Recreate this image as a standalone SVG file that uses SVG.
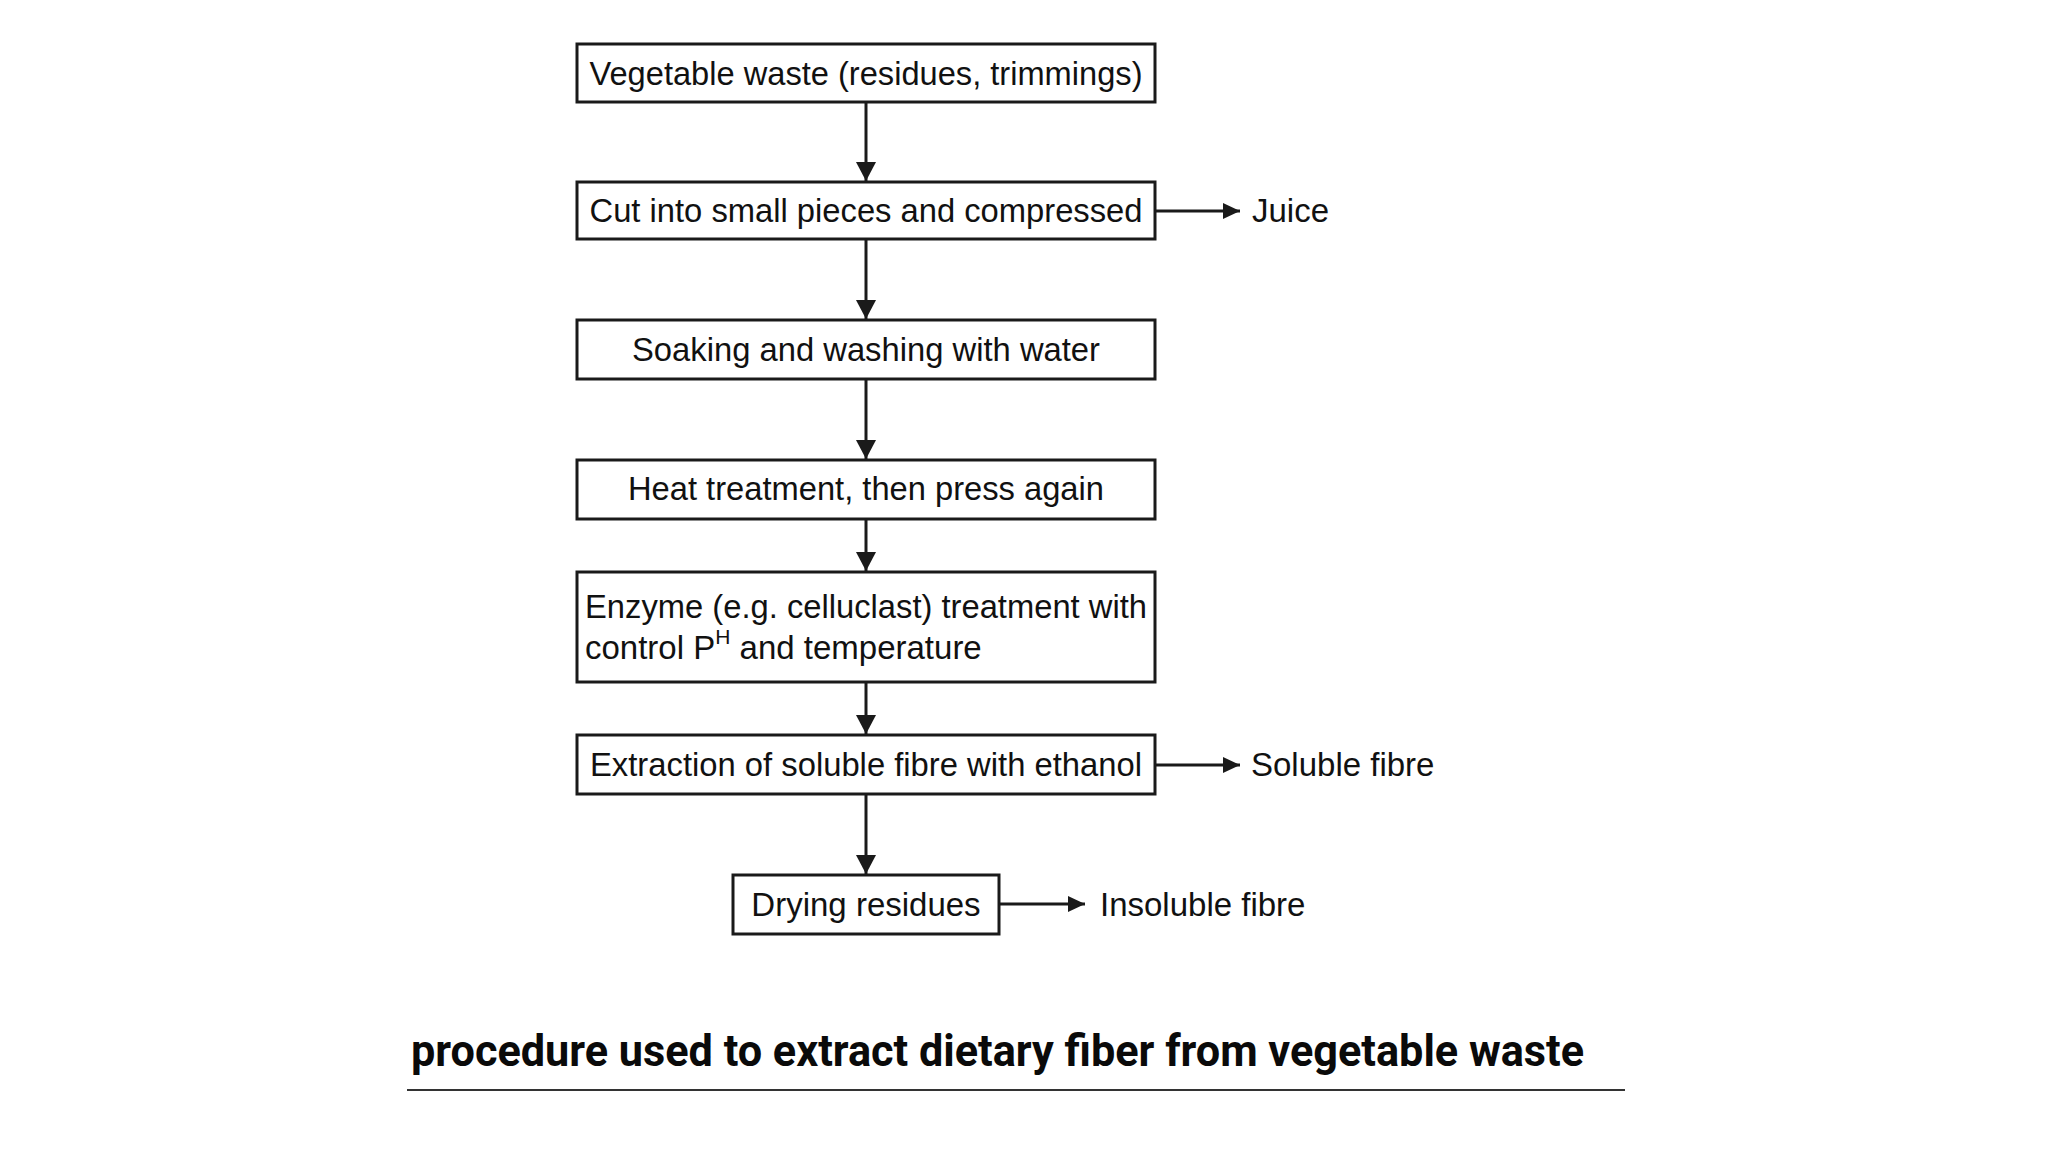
<svg xmlns="http://www.w3.org/2000/svg" width="2048" height="1152" viewBox="0 0 2048 1152">
  <defs>
    <style>
      .box { fill: #ffffff; stroke: #1a1a1a; stroke-width: 3; }
      .lbl { font-family: "Liberation Sans", Arial, sans-serif; font-size: 33px; fill: #111111; }
      .mid { text-anchor: middle; }
      .conn { stroke: #1a1a1a; stroke-width: 3; fill: none; }
      .cap { font-family: Roboto, "Liberation Sans", sans-serif; font-size: 45px; font-weight: 700; fill: #0a0a0a; }
    </style>
    <marker id="arrV" markerUnits="userSpaceOnUse" markerWidth="22" markerHeight="22" refX="19" refY="10" orient="auto">
      <path d="M0,0 L19,10 L0,20 Z" fill="#1a1a1a"/>
    </marker>
    <marker id="arrH" markerUnits="userSpaceOnUse" markerWidth="20" markerHeight="18" refX="17" refY="8" orient="auto">
      <path d="M0,0 L17,8 L0,16 Z" fill="#1a1a1a"/>
    </marker>
  </defs>
  <rect width="2048" height="1152" fill="#ffffff"/>

  <g id="connectors">
    <line class="conn" x1="866" y1="103" x2="866" y2="181" marker-end="url(#arrV)"/>
    <line class="conn" x1="866" y1="240" x2="866" y2="319" marker-end="url(#arrV)"/>
    <line class="conn" x1="866" y1="380" x2="866" y2="459" marker-end="url(#arrV)"/>
    <line class="conn" x1="866" y1="520" x2="866" y2="571" marker-end="url(#arrV)"/>
    <line class="conn" x1="866" y1="683" x2="866" y2="734" marker-end="url(#arrV)"/>
    <line class="conn" x1="866" y1="795" x2="866" y2="874" marker-end="url(#arrV)"/>
    <line class="conn" x1="1156" y1="211" x2="1240" y2="211" marker-end="url(#arrH)"/>
    <line class="conn" x1="1156" y1="765" x2="1240" y2="765" marker-end="url(#arrH)"/>
    <line class="conn" x1="1000" y1="904" x2="1085" y2="904" marker-end="url(#arrH)"/>
  </g>

  <g id="n1">
    <rect class="box" x="577" y="44" width="578" height="58"/>
    <text class="lbl mid" x="866" y="85" textLength="553" lengthAdjust="spacingAndGlyphs">Vegetable waste (residues, trimmings)</text>
  </g>
  <g id="n2">
    <rect class="box" x="577" y="182" width="578" height="57"/>
    <text class="lbl mid" x="866" y="222" textLength="553" lengthAdjust="spacingAndGlyphs">Cut into small pieces and compressed</text>
  </g>
  <g id="juice">
    <text class="lbl" x="1252" y="222">Juice</text>
  </g>
  <g id="n3">
    <rect class="box" x="577" y="320" width="578" height="59"/>
    <text class="lbl mid" x="866" y="361" textLength="468" lengthAdjust="spacingAndGlyphs">Soaking and washing with water</text>
  </g>
  <g id="n4">
    <rect class="box" x="577" y="460" width="578" height="59"/>
    <text class="lbl mid" x="866" y="500" textLength="476" lengthAdjust="spacingAndGlyphs">Heat treatment, then press again</text>
  </g>
  <g id="n5">
    <rect class="box" x="577" y="572" width="578" height="110"/>
    <text class="lbl" x="585" y="618" textLength="562" lengthAdjust="spacingAndGlyphs">Enzyme (e.g. celluclast) treatment with</text>
    <text class="lbl" x="585" y="659">control P<tspan font-size="21" dy="-15">H</tspan><tspan dy="15"> and temperature</tspan></text>
  </g>
  <g id="n6">
    <rect class="box" x="577" y="735" width="578" height="59"/>
    <text class="lbl mid" x="866" y="776" textLength="552" lengthAdjust="spacingAndGlyphs">Extraction of soluble fibre with ethanol</text>
  </g>
  <g id="soluble">
    <text class="lbl" x="1251" y="776">Soluble fibre</text>
  </g>
  <g id="n7">
    <rect class="box" x="733" y="875" width="266" height="59"/>
    <text class="lbl mid" x="866" y="916">Drying residues</text>
  </g>
  <g id="insoluble">
    <text class="lbl" x="1100" y="916">Insoluble fibre</text>
  </g>

  <g id="caption">
    <text class="cap" x="411" y="1066" textLength="1173" lengthAdjust="spacingAndGlyphs">procedure used to extract dietary fiber from vegetable waste</text>
    <line x1="407" y1="1090" x2="1625" y2="1090" stroke="#333333" stroke-width="2"/>
  </g>
</svg>
